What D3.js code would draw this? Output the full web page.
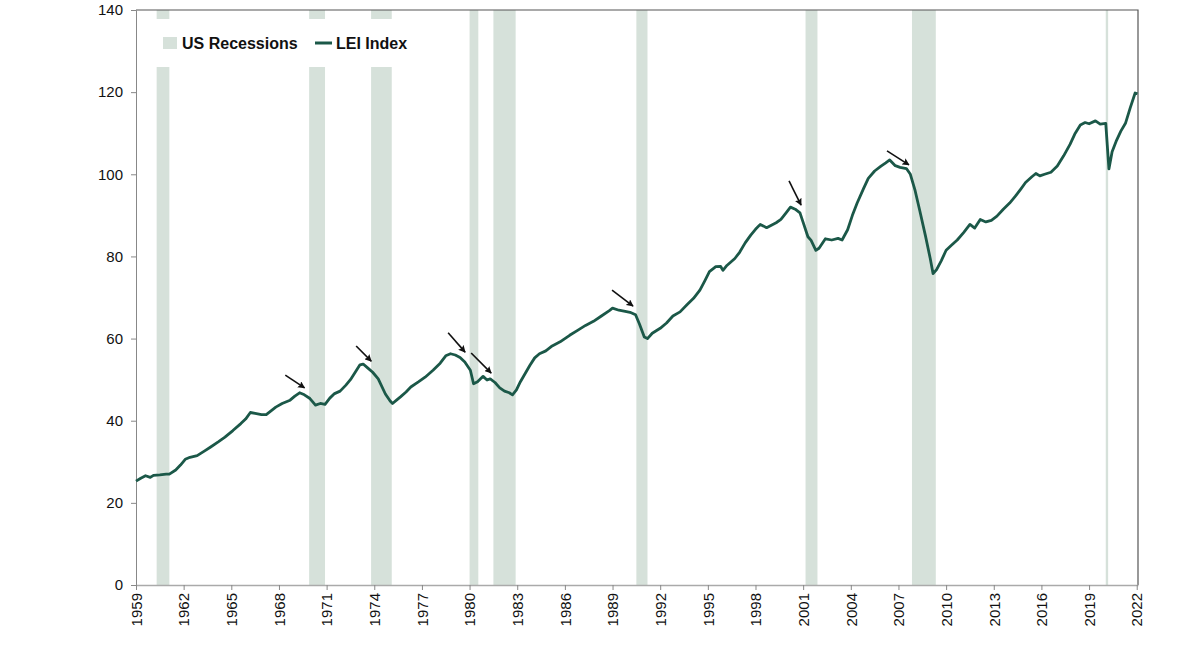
<!DOCTYPE html>
<html>
<head>
<meta charset="utf-8">
<script src="https://cdn.jsdelivr.net/npm/d3@7"></script>
<style>
  body { margin: 0; background: #fff; }
  svg { font-family: "Liberation Sans", Arial, sans-serif; }
</style>
</head>
<body>
<svg width="1200" height="670"></svg>
<script>
// LEI index, [decimal year, value]
const lei = [
  [1959.0, 25.3], [1959.3, 26.0], [1959.6, 26.6], [1959.9, 26.2], [1960.1, 26.7],
  [1960.5, 26.8], [1960.9, 27.0], [1961.1, 27.0], [1961.5, 28.0], [1961.8, 29.2],
  [1962.1, 30.6], [1962.4, 31.1], [1962.85, 31.5], [1963.3, 32.6], [1963.7, 33.6],
  [1964.2, 34.9], [1964.6, 36.0], [1965.1, 37.6], [1965.6, 39.3], [1965.9, 40.4],
  [1966.2, 42.0], [1966.5, 41.8], [1966.9, 41.5], [1967.2, 41.5], [1967.5, 42.4],
  [1967.8, 43.3], [1968.2, 44.2], [1968.7, 45.0], [1969.0, 46.0], [1969.3, 46.8],
  [1969.6, 46.3], [1969.95, 45.4], [1970.3, 43.8], [1970.6, 44.2], [1970.9, 44.0],
  [1971.2, 45.5], [1971.5, 46.6], [1971.85, 47.2], [1972.2, 48.6], [1972.5, 50.0],
  [1972.8, 51.8], [1973.1, 53.6], [1973.3, 53.8], [1973.6, 52.8], [1973.9, 51.8],
  [1974.25, 50.2], [1974.7, 46.5], [1975.0, 44.8], [1975.15, 44.2], [1975.4, 45.0],
  [1975.65, 45.8], [1976.0, 47.0], [1976.3, 48.2], [1976.8, 49.5], [1977.2, 50.6],
  [1977.7, 52.3], [1978.15, 54.0], [1978.5, 55.8], [1978.8, 56.3], [1979.1, 56.0],
  [1979.4, 55.4], [1979.7, 54.3], [1980.05, 52.3], [1980.25, 49.0], [1980.5, 49.5],
  [1980.85, 50.8], [1981.1, 49.9], [1981.3, 50.2], [1981.6, 49.3], [1981.9, 48.0],
  [1982.2, 47.2], [1982.5, 46.8], [1982.7, 46.3], [1982.95, 47.5], [1983.2, 49.5],
  [1983.5, 51.5], [1983.8, 53.5], [1984.1, 55.3], [1984.4, 56.3], [1984.8, 57.0],
  [1985.2, 58.2], [1985.7, 59.2], [1986.3, 60.8], [1986.8, 62.0], [1987.3, 63.2],
  [1987.8, 64.2], [1988.3, 65.5], [1988.8, 66.8], [1989.0, 67.4], [1989.4, 66.9],
  [1989.8, 66.6], [1990.1, 66.4], [1990.45, 65.8], [1990.7, 63.5], [1991.0, 60.4],
  [1991.2, 60.0], [1991.5, 61.3], [1992.0, 62.5], [1992.4, 63.8], [1992.8, 65.5],
  [1993.25, 66.5], [1993.7, 68.3], [1994.1, 69.8], [1994.5, 71.8], [1994.8, 74.0],
  [1995.1, 76.3], [1995.5, 77.5], [1995.8, 77.6], [1995.95, 76.6], [1996.2, 77.8],
  [1996.7, 79.5], [1997.0, 81.0], [1997.35, 83.3], [1997.7, 85.2], [1998.0, 86.6],
  [1998.3, 87.8], [1998.7, 87.0], [1999.0, 87.6], [1999.3, 88.2], [1999.6, 89.0],
  [1999.9, 90.5], [2000.2, 92.0], [2000.5, 91.5], [2000.8, 90.6], [2001.0, 88.3],
  [2001.3, 84.8], [2001.5, 83.9], [2001.8, 81.5], [2002.0, 82.0], [2002.4, 84.3],
  [2002.8, 84.0], [2003.2, 84.4], [2003.45, 84.0], [2003.8, 86.5], [2004.1, 90.0],
  [2004.4, 93.0], [2004.8, 96.5], [2005.1, 99.0], [2005.5, 100.8], [2005.9, 102.0],
  [2006.2, 102.8], [2006.45, 103.5], [2006.8, 102.1], [2007.1, 101.7], [2007.5, 101.4],
  [2007.75, 100.0], [2008.05, 96.0], [2008.35, 91.0], [2008.7, 85.0], [2009.0, 79.5],
  [2009.18, 75.8], [2009.4, 76.8], [2009.7, 79.0], [2010.0, 81.5], [2010.3, 82.6],
  [2010.7, 84.0], [2011.1, 85.8], [2011.5, 87.8], [2011.8, 86.9], [2012.15, 89.0],
  [2012.5, 88.4], [2012.85, 88.8], [2013.2, 89.8], [2013.6, 91.5], [2014.0, 93.0],
  [2014.35, 94.6], [2014.7, 96.4], [2015.0, 98.0], [2015.4, 99.4], [2015.65, 100.2],
  [2015.9, 99.6], [2016.2, 100.0], [2016.6, 100.5], [2017.0, 102.0], [2017.4, 104.5],
  [2017.8, 107.3], [2018.1, 109.8], [2018.45, 112.0], [2018.75, 112.6], [2019.0, 112.3],
  [2019.4, 113.0], [2019.7, 112.2], [2020.05, 112.4], [2020.25, 101.3], [2020.45, 105.5],
  [2020.7, 108.0], [2021.0, 110.5], [2021.3, 112.5], [2021.6, 116.3], [2021.9, 119.8],
  [2022.05, 119.6]
];

// US recessions, [start, end] in decimal years
const recessions = [
  [1960.3, 1961.1], [1969.9, 1970.9], [1973.8, 1975.1], [1980.0, 1980.55],
  [1981.5, 1982.9], [1990.5, 1991.2], [2001.15, 2001.9], [2007.85, 2009.35],
  [2020.05, 2020.2]
];

// annotation arrows: [fromYear, fromValue, toYear, toValue]
const arrows = [
  [1968.40, 51.1, 1969.61, 48.0],
  [1972.86, 58.2, 1973.81, 54.5],
  [1978.65, 61.4, 1979.72, 56.7],
  [1980.10, 56.5, 1981.36, 51.6],
  [1988.97, 71.8, 1990.29, 67.9],
  [2000.11, 98.4, 2000.87, 92.5],
  [2006.28, 105.7, 2007.66, 102.3]
];

const yTicks = [0, 20, 40, 60, 80, 100, 120, 140];
const xTicks = d3.range(1959, 2023, 3);
const legendLabels = ["US Recessions", "LEI Index"];

const lineColor = "#1b5848";
const barColor = "#d6e1da";

const margin = { left: 136, right: 62, top: 10, bottom: 85 };
const width = 1200, height = 670;

const svg = d3.select("svg");

const x = d3.scaleLinear()
  .domain([1959, 2022.08])
  .range([margin.left, width - margin.right]);

const y = d3.scaleLinear()
  .domain([0, 140])
  .range([height - margin.bottom, margin.top]);

// recession bands
svg.append("g")
  .selectAll("rect")
  .data(recessions)
  .join("rect")
  .attr("x", d => x(d[0]))
  .attr("width", d => Math.max(2, x(d[1]) - x(d[0])))
  .attr("y", y(140))
  .attr("height", y(0) - y(140))
  .attr("fill", barColor);

// frame (top and right)
svg.append("path")
  .attr("d", `M${x.range()[0]},${y(140)}H${x.range()[1]}V${y(0)}`)
  .attr("fill", "none")
  .attr("stroke", "#555")
  .attr("stroke-width", 1.2);

// y axis
const yAxis = svg.append("g")
  .attr("transform", `translate(${margin.left},0)`)
  .call(d3.axisLeft(y).tickValues(yTicks).tickSize(5).tickPadding(8));
yAxis.select(".domain").attr("stroke", "#888");
yAxis.selectAll(".tick line").attr("stroke", "#888");
yAxis.selectAll("text").attr("font-size", 15).attr("fill", "#111")
  .attr("font-family", "Liberation Sans, Arial, sans-serif");

// x axis
const xAxis = svg.append("g")
  .attr("transform", `translate(0,${y(0)})`)
  .call(d3.axisBottom(x).tickValues(xTicks).tickFormat(d3.format("d")).tickSize(5).tickSizeOuter(0));
xAxis.select(".domain").attr("stroke", "#aaa").attr("stroke-width", 1.5);
xAxis.selectAll(".tick line").attr("stroke", "#888");
xAxis.selectAll("text")
  .attr("font-size", 15)
  .attr("fill", "#111")
  .attr("font-family", "Liberation Sans, Arial, sans-serif")
  .attr("transform", "rotate(-90)")
  .attr("text-anchor", "end")
  .attr("x", -8)
  .attr("y", 0)
  .attr("dy", "0.35em");

// LEI line
const line = d3.line()
  .x(d => x(d[0]))
  .y(d => y(d[1]));

svg.append("path")
  .datum(lei)
  .attr("d", line)
  .attr("fill", "none")
  .attr("stroke", lineColor)
  .attr("stroke-width", 2.8)
  .attr("stroke-linejoin", "round");

// arrows
svg.append("defs").append("marker")
  .attr("id", "head")
  .attr("viewBox", "0 0 10 10")
  .attr("refX", 9)
  .attr("refY", 5)
  .attr("markerWidth", 4.5)
  .attr("markerHeight", 4.5)
  .attr("orient", "auto")
  .append("path")
  .attr("d", "M0,0L10,5L0,10L2,5Z")
  .attr("fill", "#111");

svg.append("g")
  .selectAll("line")
  .data(arrows)
  .join("line")
  .attr("x1", d => x(d[0]))
  .attr("y1", d => y(d[1]))
  .attr("x2", d => x(d[2]))
  .attr("y2", d => y(d[3]))
  .attr("stroke", "#111")
  .attr("stroke-width", 1.6)
  .attr("marker-end", "url(#head)");

// legend
const legend = svg.append("g");
legend.append("rect")
  .attr("x", 150).attr("y", 19)
  .attr("width", 272).attr("height", 48)
  .attr("fill", "#fff");
legend.append("rect")
  .attr("x", 163).attr("y", 37)
  .attr("width", 14).attr("height", 12)
  .attr("fill", barColor);
legend.append("text")
  .attr("x", 182).attr("y", 49)
  .attr("font-size", 16).attr("font-weight", "bold").attr("fill", "#111")
  .text(legendLabels[0]);
legend.append("line")
  .attr("x1", 315).attr("x2", 332)
  .attr("y1", 43).attr("y2", 43)
  .attr("stroke", lineColor).attr("stroke-width", 3);
legend.append("text")
  .attr("x", 336).attr("y", 49)
  .attr("font-size", 16).attr("font-weight", "bold").attr("fill", "#111")
  .text(legendLabels[1]);
</script>
</body>
</html>
